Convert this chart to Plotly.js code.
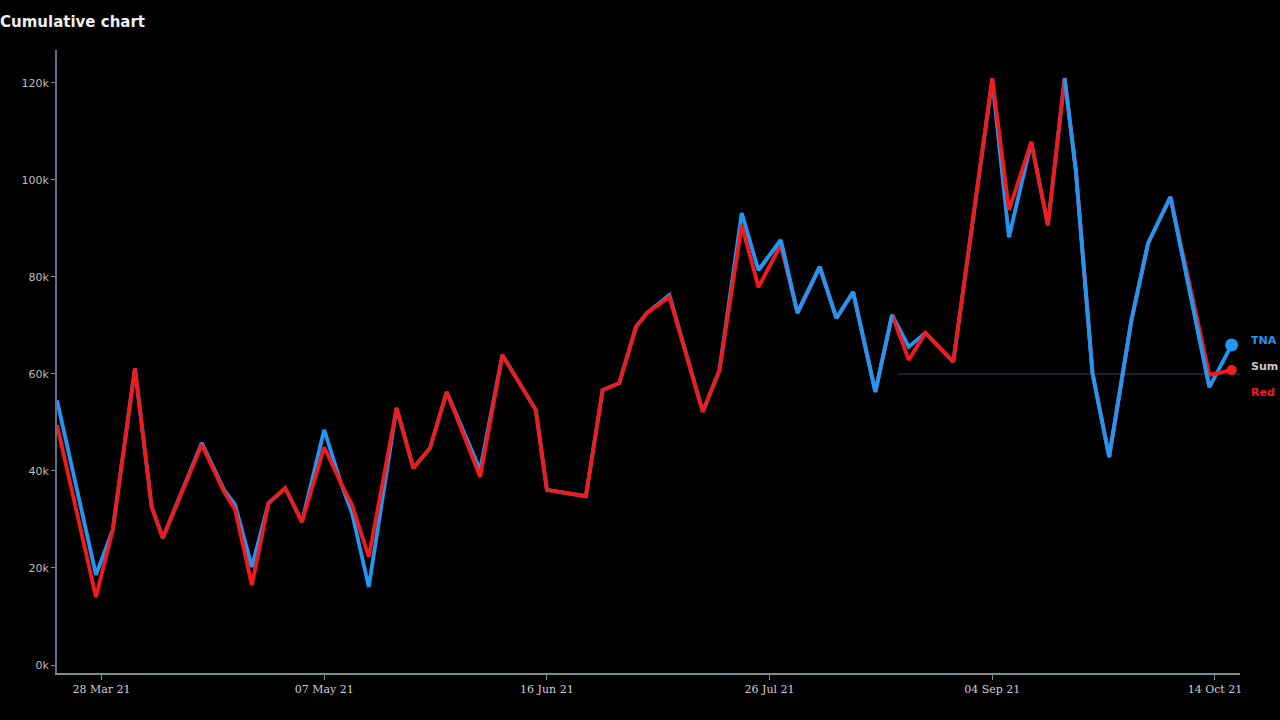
<!DOCTYPE html>
<html>
<head>
<meta charset="utf-8">
<script src="https://cdn.plot.ly/plotly-3.0.1.min.js"></script>
<style>
  html, body { margin: 0; padding: 0; background: #000; }
  #chart { width: 1280px; height: 720px; }
</style>
</head>
<body>
<div id="chart"></div>
<script>
// ---- data (values in thousands) ----
const steps = [0,7,10,14,17,19,26,30,32,35,38,41,44,48,51,53,56,61,64,67,70,76,80,83,86,88,95,98,101,104,106,110,116,119,123,126,130,133,137,140,143,147,150,153,156,161,168,171,175,178,181,183,186,189,193,196,200,207,211];
const blueValues = [54.6,18.6,27.8,61.2,32.6,26.2,45.8,36.1,33.0,20.2,33.4,36.5,29.5,48.5,37.5,31.3,16.1,53.0,40.6,44.7,56.3,40.2,63.9,58.1,52.6,36.1,34.8,56.7,58.1,69.7,72.6,76.3,52.2,60.8,93.2,81.4,87.6,72.6,82.1,71.5,76.9,56.3,72.2,65.6,68.5,62.5,120.6,88.2,107.8,90.7,121.0,102.1,60.2,42.9,71.1,87.0,96.5,57.3,66.0];
const redValues  = [49.5,14.0,27.8,61.2,32.6,26.2,45.4,35.7,32.0,16.5,33.4,36.5,29.5,44.9,37.5,33.0,22.3,53.0,40.6,44.7,56.3,38.8,63.9,58.1,52.6,36.1,34.8,56.7,58.1,69.7,72.6,75.9,52.2,60.8,90.7,77.9,86.6,72.6,82.1,71.5,76.9,56.3,72.2,62.9,68.5,62.5,121.0,93.8,107.8,90.7,121.0,102.1,60.2,42.9,71.1,87.0,96.5,59.8,60.8];
const xTickVals = [8,48,88,128,168,208];
const xTickText = ["28 Mar 21","07 May 21","16 Jun 21","26 Jul 21","04 Sep 21","14 Oct 21"];
const yTickVals = [0,20,40,60,80,100,120];
const yTickText = ["0k","20k","40k","60k","80k","100k","120k"];
const refLevel = 60;
const refStart = 151;
const blueOnTopRanges = [[126,150],[181,207]];
const labelTexts = ["TNA","Sum","Red"];

// ---- styling ----
const BLUE = "#2196f3";
const RED = "#f21a1a";

const inTop = s => blueOnTopRanges.some(r => s >= r[0] && s <= r[1]);
const blueTop = blueValues.map((v, i) => inTop(steps[i]) ? v : null);
const last = steps.length - 1;

const traces = [
  {x: steps, y: blueValues, mode: "lines", line: {color: BLUE, width: 3.8}, hoverinfo: "skip"},
  {x: steps, y: redValues, mode: "lines", line: {color: RED, width: 3.8}, hoverinfo: "skip"},
  {x: steps, y: blueTop, mode: "lines", connectgaps: false, line: {color: BLUE, width: 3.8}, hoverinfo: "skip"},
  {x: [steps[last]], y: [redValues[last]], mode: "markers", marker: {color: RED, size: 10}},
  {x: [steps[last]], y: [blueValues[last]], mode: "markers", marker: {color: BLUE, size: 13}}
];

const labelFont = c => ({family: "DejaVu Sans", size: 11, color: c});
const labelY = px => (673 - px) / 623;

const layout = {
  width: 1280, height: 720,
  paper_bgcolor: "#000", plot_bgcolor: "#000",
  showlegend: false,
  margin: {l: 57, r: 40, t: 50, b: 47},
  title: {
    text: "Cumulative chart",
    xref: "container", x: 0.0, xanchor: "left",
    yref: "container", y: 1 - 22/720, yanchor: "middle",
    font: {family: "DejaVu Sans", size: 15, color: "#f0f0f0", weight: "bold"}
  },
  xaxis: {
    range: [0, 212.5],
    tickmode: "array", tickvals: xTickVals, ticktext: xTickText,
    showgrid: false, zeroline: false,
    showline: true, linecolor: "#7d8c8c", linewidth: 2,
    ticks: "outside", ticklen: 5, tickcolor: "#7d8c8c",
    tickfont: {family: "DejaVu Serif", size: 11, color: "#cfcfcf"}
  },
  yaxis: {
    range: [-1.65, 126.8],
    tickmode: "array", tickvals: yTickVals, ticktext: yTickText,
    showgrid: false, zeroline: false,
    showline: true, linecolor: "#5f7088", linewidth: 2,
    ticks: "outside", ticklen: 4, tickcolor: "#7d8c8c",
    tickfont: {family: "DejaVu Sans", size: 11, color: "#bdbdbd"}
  },
  shapes: [{
    type: "line", layer: "below", xref: "x", yref: "y",
    x0: refStart, x1: 212.5, y0: refLevel, y1: refLevel,
    line: {color: "#1f2a48", width: 1.5}
  }],
  annotations: [
    {text: "<b>" + labelTexts[0] + "</b>", xref: "paper", yref: "paper", x: 1.0075, y: labelY(340), xanchor: "left", yanchor: "middle", showarrow: false, font: labelFont(BLUE)},
    {text: "<b>" + labelTexts[1] + "</b>", xref: "paper", yref: "paper", x: 1.0075, y: labelY(366), xanchor: "left", yanchor: "middle", showarrow: false, font: labelFont("#c8c8c8")},
    {text: "<b>" + labelTexts[2] + "</b>", xref: "paper", yref: "paper", x: 1.0075, y: labelY(392), xanchor: "left", yanchor: "middle", showarrow: false, font: labelFont(RED)}
  ]
};

Plotly.newPlot("chart", traces, layout, {displayModeBar: false, staticPlot: true});
</script>
</body>
</html>
